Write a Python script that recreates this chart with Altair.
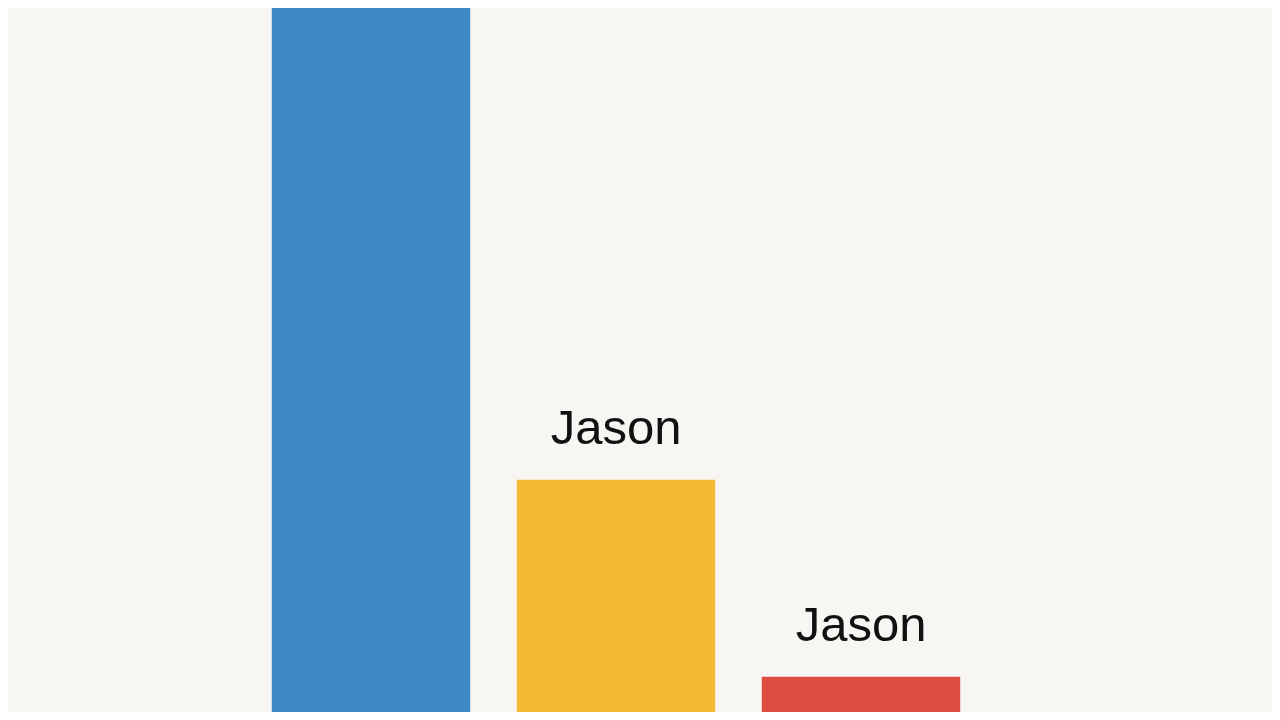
import altair as alt
import pandas as pd

categories = ["Bar 1", "Bar 2", "Bar 3"]
values = [100, 33, 5]
labels = ["", "Jason", "Jason"]
colors = ["#3f8ac4", "#f2bb33", "#dd4c40"]

df = pd.DataFrame({"cat": categories, "value": values, "label": labels})

x = alt.X("cat:N", sort=categories, axis=None,
          scale=alt.Scale(range=[240.5, 975.5], paddingInner=0.19, paddingOuter=0.095))
y = alt.Y("value:Q", axis=None, scale=alt.Scale(domain=[0, 100]))

bars = alt.Chart(df).mark_bar(clip=True).encode(
    x=x, y=y,
    color=alt.Color("cat:N", scale=alt.Scale(domain=categories, range=colors), legend=None),
)

text = alt.Chart(df).transform_filter("datum.label != ''").mark_text(
    dy=-36, baseline="alphabetic", align="center", fontSize=49,
    font="Liberation Sans", color="#111111",
).encode(x=x, y=y, text="label:N")

chart = (bars + text).properties(
    width=1264, height=704,
    autosize=alt.AutoSizeParams(type="none"),
    padding=0,
    background="#f7f6f3",
).configure_view(stroke=None, fill="#f7f6f3")

chart.save("out.html", embed_options={"renderer": "svg", "actions": False})
